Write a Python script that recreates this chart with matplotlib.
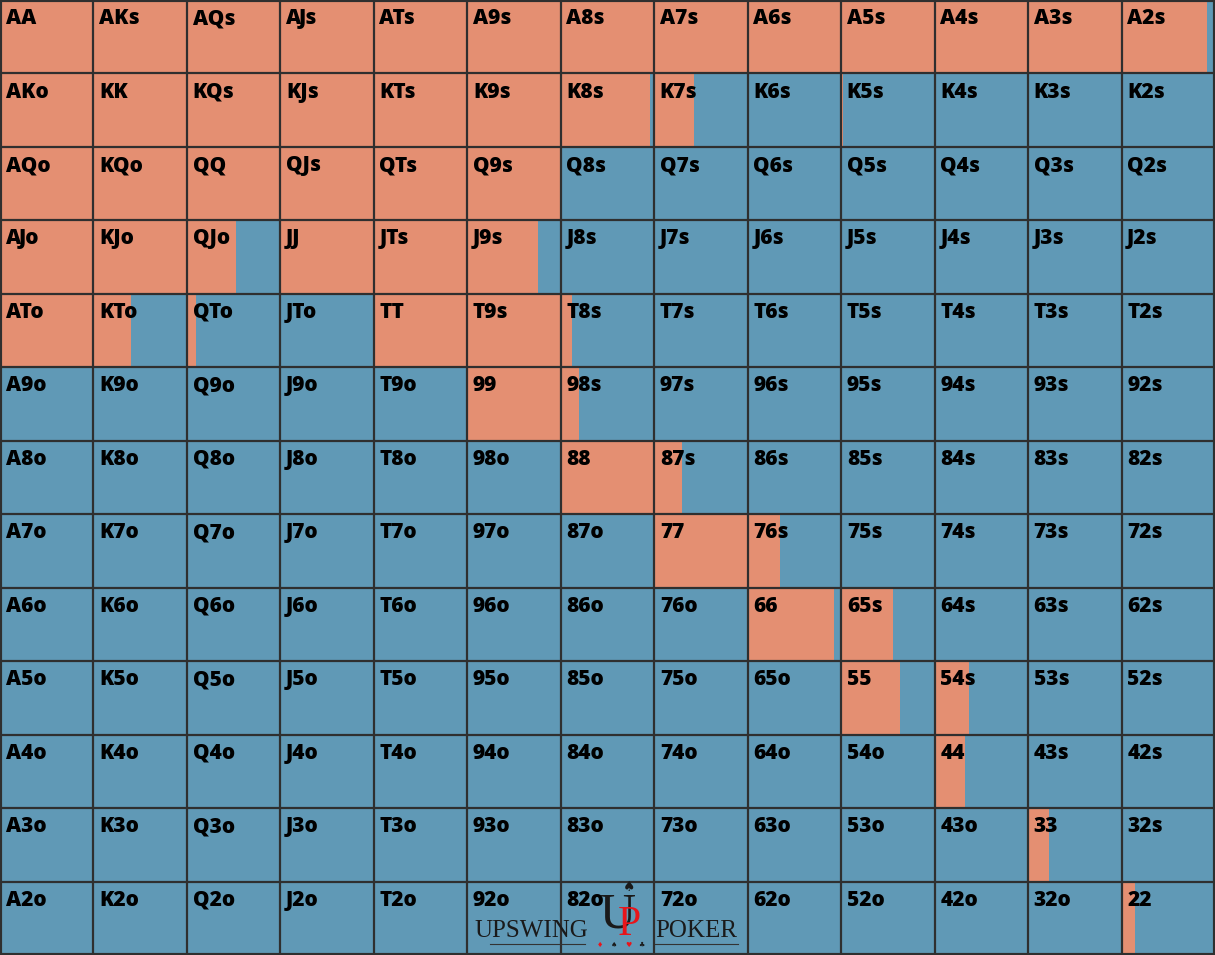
import matplotlib
matplotlib.use("Agg")
import matplotlib.pyplot as plt

ranks = ["A", "K", "Q", "J", "T", "9", "8", "7", "6", "5", "4", "3", "2"]

# share of each hand played as raise (orange), read left to right per row
row_A = [1, 1, 1, 1, 1, 1, 1, 1, 1, 1, 1, 1, 0.91]
row_K = [1, 1, 1, 1, 1, 1, 0.96, 0.43, 0, 0.025, 0, 0, 0]
row_Q = [1, 1, 1, 1, 1, 1, 0, 0, 0, 0, 0, 0, 0]
row_J = [1, 1, 0.53, 1, 1, 0.76, 0, 0, 0, 0, 0, 0, 0]
row_T = [1, 0.4, 0.1, 0, 1, 1, 0.12, 0, 0, 0, 0, 0, 0]
row_9 = [0, 0, 0, 0, 0, 1, 0.19, 0, 0, 0, 0, 0, 0]
row_8 = [0, 0, 0, 0, 0, 0, 1, 0.3, 0, 0, 0, 0, 0]
row_7 = [0, 0, 0, 0, 0, 0, 0, 1, 0.35, 0, 0, 0, 0]
row_6 = [0, 0, 0, 0, 0, 0, 0, 0, 0.92, 0.56, 0, 0, 0]
row_5 = [0, 0, 0, 0, 0, 0, 0, 0, 0, 0.63, 0.37, 0, 0]
row_4 = [0, 0, 0, 0, 0, 0, 0, 0, 0, 0, 0.33, 0, 0]
row_3 = [0, 0, 0, 0, 0, 0, 0, 0, 0, 0, 0, 0.22, 0]
row_2 = [0, 0, 0, 0, 0, 0, 0, 0, 0, 0, 0, 0, 0.14]
rows = [row_A, row_K, row_Q, row_J, row_T, row_9, row_8, row_7,
        row_6, row_5, row_4, row_3, row_2]

orange = "#E48F72"
blue = "#6099B6"
line_col = "#2f2f2f"

W, H = 1215, 955
fig = plt.figure(figsize=(W / 100, H / 100), dpi=100)
ax = fig.add_axes([0, 0, 1, 1])
ax.set_xlim(0, 13)
ax.set_ylim(13, 0)
ax.axis("off")

lab_style = dict(ha="left", va="top", fontsize=15, fontweight="heavy",
                 family="Open Sans", color="black")

n = len(ranks)
for r in range(n):
    # blue background then orange share
    ax.barh([r + 0.5] * n, [1] * n, left=range(n), height=1,
            color=blue, edgecolor="none")
    ax.barh([r + 0.5] * n, rows[r], left=range(n), height=1,
            color=orange, edgecolor="none")
    for c in range(n):
        if r == c:
            lab = ranks[r] + ranks[c]
        elif c > r:
            lab = ranks[r] + ranks[c] + "s"
        else:
            lab = ranks[c] + ranks[r] + "o"
        if lab.startswith("AJ"):
            # matplotlib leaves a gap between A and J in this font
            ax.text(c + 0.06, r + 0.11, "A", **lab_style)
            ax.text(c + 0.06 + 0.135, r + 0.11, lab[1:], **lab_style)
        else:
            ax.text(c + 0.06, r + 0.11, lab, **lab_style)

for i in range(n + 1):
    lw = 3 if i in (0, n) else 1.6
    ax.axhline(i, color=line_col, lw=lw)
    ax.axvline(i, color=line_col, lw=lw)


def px(x, y):
    # pixel position (from top-left) to figure fraction
    return x / W, 1 - y / H


# watermark
ink = "#1a1a1a"
fig.text(*px(474, 937), "UPSWING", fontsize=18, family="Liberation Serif",
         color=ink, ha="left", va="baseline")
fig.text(*px(655, 937), "POKER", fontsize=18, family="Liberation Serif",
         color=ink, ha="left", va="baseline")
fig.text(*px(618, 927), "U", fontsize=36, family="Liberation Serif",
         color=ink, ha="center", va="baseline")
fig.text(*px(629, 935), "P", fontsize=30, family="Liberation Serif",
         color="#e8151b", ha="center", va="baseline")
fig.text(*px(629, 887), "\u2660", fontsize=10, family="DejaVu Sans",
         color=ink, ha="center", va="center")
for sx, sym, col in [(600, "\u2666", "#e8151b"), (614, "\u2660", ink),
                     (628, "\u2665", "#e8151b"), (641, "\u2663", ink)]:
    fig.text(*px(sx, 945), sym, fontsize=5, family="DejaVu Sans",
             color=col, ha="center", va="center")
fig.add_artist(plt.Line2D([490 / W, 585 / W], [1 - 944 / H] * 2,
                          color="#333333", lw=0.8))
fig.add_artist(plt.Line2D([655 / W, 738 / W], [1 - 944 / H] * 2,
                          color="#333333", lw=0.8))

fig.savefig("out.png", dpi=100)
